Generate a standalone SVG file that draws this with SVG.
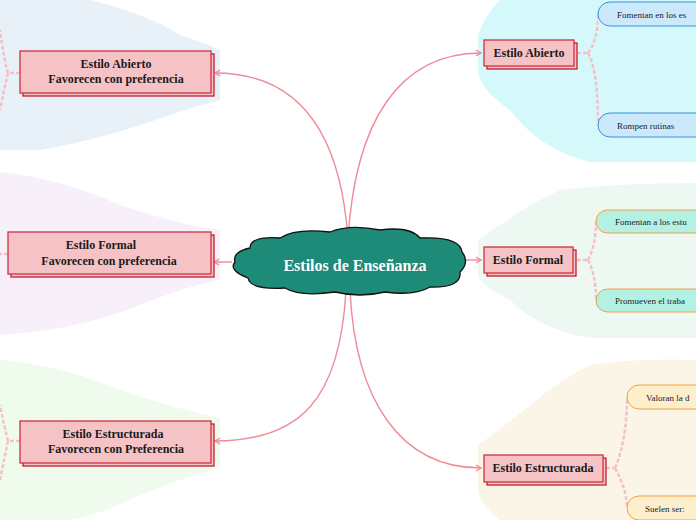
<svg xmlns="http://www.w3.org/2000/svg" width="696" height="520" viewBox="0 0 696 520">
<defs>
<style>
.n{fill:#f5c2c5;stroke:#d0303f;stroke-width:1.3}
.sh{fill:#f5c2c5;stroke:#c02030;stroke-width:1.3}
.t{font-family:"Liberation Serif",serif;font-weight:bold;font-size:12px;fill:#1a1a1a;text-anchor:middle}
.ct{font-family:"Liberation Serif",serif;font-size:9px;fill:#1a2030}
.c{fill:none;stroke:#f08a98;stroke-width:1.4}
.d{fill:none;stroke:#f5c0c8;stroke-width:2.5;stroke-dasharray:4 2}
</style>
<marker id="a" markerWidth="8" markerHeight="8" refX="6" refY="4" orient="auto" markerUnits="userSpaceOnUse"><path d="M1,1 L6,4 L1,7" fill="none" stroke="#f08a98" stroke-width="1.4"/></marker>
</defs>
<rect width="696" height="520" fill="#fff"/>
<g id="bg">
<path d="M0,0 H90 Q150,15 180,35 Q210,45 220,50 V100 Q200,105 170,115 Q100,140 40,150 H0Z" fill="#e8f1f7"/>
<path d="M0,172 Q60,178 120,205 Q180,225 220,230 V280 Q190,285 140,305 Q80,330 0,335Z" fill="#f7f0fb"/>
<path d="M0,360 Q60,365 120,390 Q180,410 220,418 V468 Q190,475 140,495 Q100,515 70,520 H0Z" fill="#effbed"/>
<path d="M500,0 H696 V162 H590 Q540,150 510,110 Q480,90 478,70 V35 Q485,15 500,0Z" fill="#d5f8fb"/>
<path d="M560,190 Q620,183 696,183 V338 H590 Q540,330 510,300 Q480,285 478,275 V240 Q500,225 530,205Z" fill="#eef8f2"/>
<path d="M590,365 Q640,358 696,360 V520 H500 Q480,505 478,490 V445 Q500,430 530,405 Q560,380 590,365Z" fill="#faf5e6"/>
</g>
<g id="connectors">
<path class="c" d="M348,240 C340,120 290,73 215,73" marker-end="url(#a)"/>
<path class="c" d="M348,240 C355,120 400,53 481,53" marker-end="url(#a)"/>
<path class="c" d="M465,260 H481" marker-end="url(#a)"/>
<path class="c" d="M232,262 H214" marker-end="url(#a)"/>
<path class="c" d="M350,290 C355,400 400,468 481,468" marker-end="url(#a)"/>
<path class="c" d="M346,290 C340,400 300,441 215,441" marker-end="url(#a)"/>
<path class="d" d="M577,53 H588 M588,53 Q598,40 598,14 M588,53 Q598,70 598,125"/>
<path class="d" d="M577,260 H588 M588,260 Q596,245 596,221 M588,260 Q596,275 596,300"/>
<path class="d" d="M606,468 H615 M615,468 Q627,440 627,397 M615,468 Q627,490 627,508"/>
<path class="d" d="M20,73 H8 Q4,60 0,30 M8,73 Q4,90 0,110"/>
<path class="d" d="M8,254 H0"/>
<path class="d" d="M20,441 H8 Q4,425 0,405 M8,441 Q4,460 0,480"/>
</g>
<g id="center">
<path d="M250,248 Q250,236 280,238 Q295,228 330,232 Q350,224 380,230 Q410,226 420,238 Q460,236 462,252 Q470,262 460,272 Q462,288 430,287 Q415,296 385,292 Q360,298 335,292 Q300,297 285,288 Q250,290 248,278 Q228,270 235,262 Q232,252 250,248Z" fill="#1e8a78" stroke="#111" stroke-width="1.3"/>
<text x="355" y="271" font-family="Liberation Serif,serif" font-weight="bold" font-size="16" fill="#fff" text-anchor="middle">Estilos de Enseñanza</text>
</g>
<g id="r1"><rect class="sh" x="487" y="43" width="90" height="26"/><rect class="n" x="484" y="40" width="90" height="26"/><text class="t" x="529" y="57">Estilo Abierto</text></g>
<g id="r2"><rect class="sh" x="487" y="250" width="89" height="26"/><rect class="n" x="484" y="247" width="89" height="26"/><text class="t" x="528" y="264">Estilo Formal</text></g>
<g id="r3"><rect class="sh" x="487" y="458" width="119" height="27"/><rect class="n" x="484" y="455" width="119" height="27"/><text class="t" x="543" y="472">Estilo Estructurada</text></g>
<g id="l1"><rect class="sh" x="23" y="54" width="191" height="42"/><rect class="n" x="20" y="51" width="191" height="42"/><text class="t" x="116" y="68">Estilo Abierto</text><text class="t" x="116" y="83">Favorecen con preferencia</text></g>
<g id="l2"><rect class="sh" x="11" y="235" width="203" height="42"/><rect class="n" x="8" y="232" width="203" height="42"/><text class="t" x="101" y="249">Estilo Formal</text><text class="t" x="109" y="265">Favorecen con preferencia</text></g>
<g id="l3"><rect class="sh" x="23" y="424" width="191" height="42"/><rect class="n" x="20" y="421" width="191" height="42"/><text class="t" x="113" y="438">Estilo Estructurada</text><text class="t" x="116" y="453">Favorecen con Preferencia</text></g>
<g id="k1"><rect x="598" y="2" width="120" height="24" rx="12" fill="#cce9fb" stroke="#3a90d8"/><text class="ct" x="617" y="18">Fomentan en los es</text></g>
<g id="k2"><rect x="598" y="113" width="120" height="24" rx="12" fill="#cce9fb" stroke="#3a90d8"/><text class="ct" x="617" y="129">Rompen rutinas</text></g>
<g id="k3"><rect x="596" y="210" width="120" height="23" rx="11.5" fill="#b3f2e3" stroke="#f0a040"/><text class="ct" x="615" y="225">Fomentan a los estu</text></g>
<g id="k4"><rect x="596" y="289" width="120" height="23" rx="11.5" fill="#b3f2e3" stroke="#f0a040"/><text class="ct" x="615" y="304">Promueven el traba</text></g>
<g id="k5"><rect x="627" y="385" width="100" height="24" rx="12" fill="#fdeecc" stroke="#f0a040"/><text class="ct" x="646" y="401">Valoran la d</text></g>
<g id="k6"><rect x="627" y="496" width="100" height="24" rx="12" fill="#fdeecc" stroke="#f0a040"/><text class="ct" x="645" y="512">Suelen ser:</text></g>
</svg>
